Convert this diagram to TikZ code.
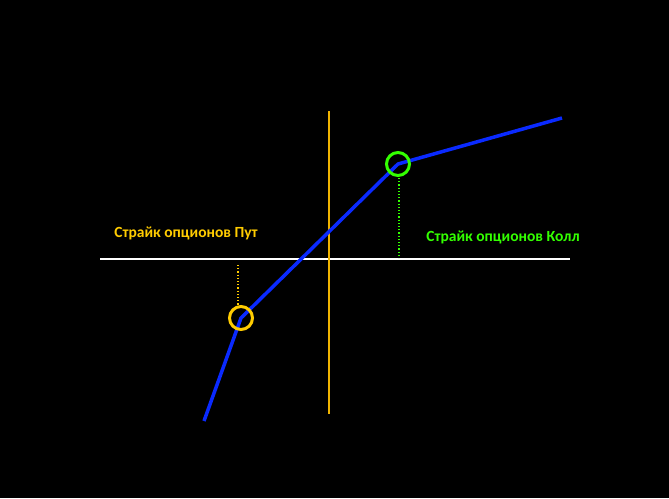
\documentclass[tikz,border=0pt]{standalone}
\usepackage{fontspec}
\setmainfont{Carlito}
\definecolor{bl}{HTML}{0A2AFF}
\definecolor{ye}{HTML}{FFCC00}
\definecolor{gr}{HTML}{33FF00}
\definecolor{or}{HTML}{F0B400}
\begin{document}
\begin{tikzpicture}[x=1pt,y=-1pt,
  lbl/.style={font=\bfseries\fontsize{15.5}{18}\selectfont,inner sep=0pt},
  ring/.style={circle,draw,line width=3pt,minimum size=23pt,inner sep=0pt}]
\fill[black] (0,0) rectangle (669,498);
\useasboundingbox (0,0) rectangle (669,498);
\coordinate (h1) at (100,259); \coordinate (h2) at (570,259);
\coordinate (v1) at (329,111); \coordinate (v2) at (329,414);
\coordinate (p0) at (204,421); \coordinate (p1) at (241,318);
\coordinate (p2) at (398,164); \coordinate (p3) at (562,118);
\draw[white,line width=1.5pt] (h1) -- (h2);
\draw[or,line width=1.5pt] (v1) -- (v2);
\coordinate (dy1) at (238,265); \coordinate (dy2) at (238,308);
\coordinate (dg1) at (399,178); \coordinate (dg2) at (399,258);
\draw[ye,dotted,line width=1.2pt] (dy1) -- (dy2);
\draw[gr,dotted,line width=1.2pt] (dg1) -- (dg2);
\draw[bl,line width=3.5pt,line join=round] (p0) -- (p1) -- (p2) -- (p3);
\node[ring,draw=ye] (cy) at (p1) {};
\node[ring,draw=gr] (cg) at (p2) {};
\node[lbl,text=ye] (ty) at (186,233) {Страйк опционов Пут};
\node[lbl,text=gr] (tg) at (503,237) {Страйк опционов Колл};
\end{tikzpicture}
\end{document}
